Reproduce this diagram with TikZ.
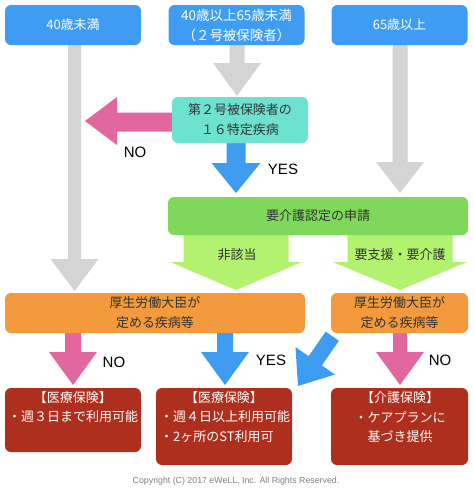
\documentclass[tikz,border=0pt]{standalone}
\usepackage{fontspec}
\newfontfamily\jp{Noto Sans CJK JP}
\newfontfamily\lat{Liberation Sans}
\definecolor{topblue}{HTML}{3E9CF2}
\definecolor{tealc}{HTML}{6DE3CF}
\definecolor{greenc}{HTML}{80D85A}
\definecolor{lgreen}{HTML}{B2F26E}
\definecolor{orangec}{HTML}{F39A3C}
\definecolor{redc}{HTML}{AF2F1F}
\definecolor{grayc}{HTML}{D4D4D4}
\definecolor{pinkc}{HTML}{E2679F}
\definecolor{bluec}{HTML}{3D9BF0}
\definecolor{txt}{HTML}{333333}
\newcommand\bdown[7]{%
\fill[#1] (#2-#6,#3) -- (#2+#6,#3) -- (#2+#6,#4) -- (#2+#7,#4) -- (#2,#5) -- (#2-#7,#4) -- (#2-#6,#4) -- cycle;}
\tikzset{
  box/.style={rounded corners=6pt, inner sep=0pt, align=center, font=\jp\fontsize{13}{20}\selectfont},
  topbox/.style={box, fill=topblue, text=white, minimum width=136pt, minimum height=40pt},
  tealbox/.style={box, fill=tealc, text=txt, minimum width=136pt, minimum height=46pt},
  greenbox/.style={box, fill=greenc, text=txt, minimum width=300pt, minimum height=38pt},
  orangebox/.style={box, fill=orangec, text=txt, minimum height=40pt},
  redbox/.style={box, fill=redc, minimum width=136pt},
  rtext/.style={inner sep=0pt, text=white, font=\jp\fontsize{13}{20}\selectfont},
  lab/.style={inner sep=0pt, font=\lat\fontsize{15}{18}\selectfont},
  atext/.style={inner sep=0pt, text=txt, font=\jp\fontsize{13}{20}\selectfont}
}
\begin{document}
\begin{tikzpicture}[x=1pt,y=-1pt]
\useasboundingbox (0,0) rectangle (474,491);
\fill[white] (0,0) rectangle (474,491);
% arrows (drawn first)
\bdown{grayc}{74.5}{44}{259}{291}{6.5}{24}
\bdown{grayc}{237}{44}{63}{96}{7.5}{24}
\bdown{grayc}{400}{44}{162}{193}{7.5}{24}
\bdown{bluec}{236}{142}{163}{193}{9.5}{24.5}
\bdown{lgreen}{236}{234}{262}{290}{52.5}{66}
\bdown{lgreen}{400}{234}{262}{290}{52.5}{67}
\bdown{pinkc}{73}{332}{352}{385}{8}{24}
\bdown{bluec}{225}{332}{352}{385}{8}{24}
\bdown{pinkc}{400}{332}{352}{385}{7}{24}
\fill[pinkc] (173,112.5) -- (117,112.5) -- (117,97) -- (85,121) -- (117,145) -- (117,131.5) -- (173,131.5) -- cycle;
\fill[bluec] (325.7,331.6) -- (308.6,356.2) -- (295.5,347.1) -- (298,386) -- (334.9,374.5) -- (321.8,365.4) -- (338.9,340.8) -- cycle;
% boxes
\node[topbox] (b1) at (73,25) {40歳未満};
\node[topbox, font=\jp\fontsize{13.5}{20}\selectfont] (b2) at (236.5,25) {40歳以上65歳未満\\（２号被保険者）};
\node[topbox] (b3) at (399.5,25) {65歳以上};
\node[tealbox] (t) at (240,120) {第２号被保険者の\\１６特定疾病};
\node[greenbox] (g) at (318,216) {要介護認定の申請};
\node[orangebox, minimum width=300pt] (o1) at (155,313) {厚生労働大臣が\\定める疾病等};
\node[orangebox, minimum width=137pt] (o2) at (399.5,313) {厚生労働大臣が\\定める疾病等};
\node[redbox, minimum height=64pt] (r1) at (73,420) {};
\node[redbox, minimum height=77pt] (r2) at (224,426.5) {};
\node[redbox, minimum width=137pt, minimum height=77pt] (r3) at (399.5,426.5) {};
% arrow texts
\node[atext] (a1) at (237,255) {非該当};
\node[atext] (a2) at (400,255) {要支援・要介護};
\node[lab] (no1) at (135,152) {NO};
\node[lab] (yes1) at (283,169) {YES};
\node[lab] (no2) at (114,362) {NO};
\node[lab] (yes2) at (271,360) {YES};
\node[lab] (no3) at (440,360) {NO};
% red box texts
\node[rtext] (r1a) at (73,398) {【医療保険】};
\node[rtext, anchor=west] (r1b) at (8,417) {・週３日まで利用可能};
\node[rtext] (r2a) at (224,398) {【医療保険】};
\node[rtext, anchor=west] (r2b) at (160,417) {・週４日以上利用可能};
\node[rtext, anchor=west] (r2c) at (160,437) {・2ヶ所のST利用可};
\node[rtext] (r3a) at (400,398) {【介護保険】};
\node[rtext] (r3b) at (400,417) {・ケアプランに};
\node[rtext] (r3c) at (400,437) {基づき提供};
\node[inner sep=0pt, text=gray, font=\lat\fontsize{8.8}{10}\selectfont] (copy) at (236,481) {Copyright (C) 2017 eWeLL, Inc. All Rights Reserved.};
\end{tikzpicture}
\end{document}
